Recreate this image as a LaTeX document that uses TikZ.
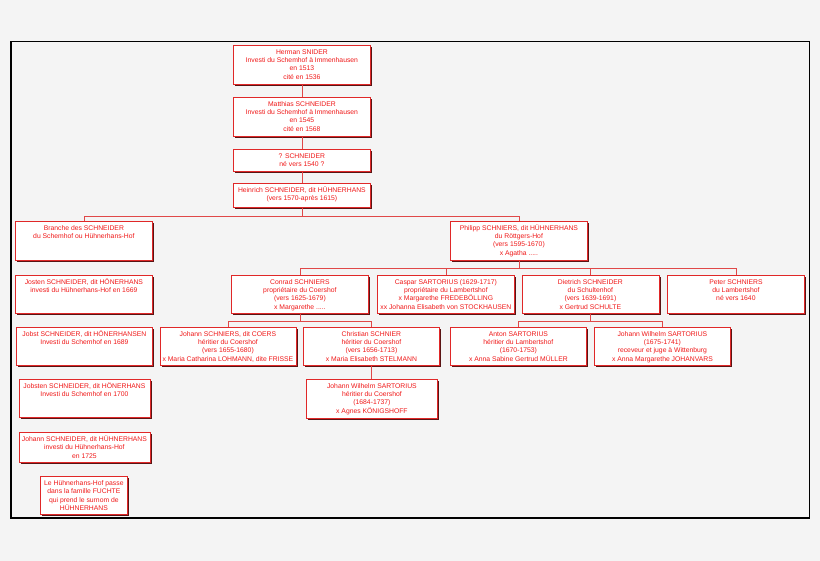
\documentclass[tikz,border=0pt]{standalone}
\usepackage{fontspec}
\setmainfont{Liberation Sans}
\usetikzlibrary{shadows,calc}
\definecolor{bg}{HTML}{F4F4F4}
\definecolor{boxred}{HTML}{E02828}
\definecolor{txtred}{HTML}{F01818}
\definecolor{shd}{HTML}{5A1414}
\definecolor{conn}{HTML}{E04848}
\newcommand\famtxt{\fontsize{6.8}{8.3}\selectfont}
\newcommand\bx[6]{\node[famb] (#1) at (#2,#3) {\parbox[t][#5pt][t]{#4pt}{\centering\rule{0pt}{9pt}#6}};}
\tikzset{
  famb/.style={draw=boxred, fill=white, line width=0.8pt, inner sep=0pt, anchor=north west,
    font=\famtxt, text=txtred,
    drop shadow={shadow xshift=1.6pt, shadow yshift=-1.6pt, fill=shd, opacity=1}},
  link/.style={draw=conn, line width=0.8pt}
}
\begin{document}
\begin{tikzpicture}[x=1pt,y=-1pt]
\fill[bg] (0,0) rectangle (820,561);
\useasboundingbox (0,0) rectangle (820,561);
\draw[line width=1.8pt] (11,41.5) rectangle (809.5,518);

\bx{herman}{233}{45}{137}{39}{Herman SNIDER\\Investi du Schemhof à Immenhausen\\en 1513\\cité en 1536}
\bx{matthias}{233}{97}{137}{39}{Matthias SCHNEIDER\\Investi du Schemhof à Immenhausen\\en 1545\\cité en 1568}
\bx{unknown}{233}{149}{137}{22}{? SCHNEIDER\\né vers 1540 ?}
\bx{heinrich}{233}{183}{137}{24}{Heinrich SCHNEIDER, dit HÜHNERHANS\\(vers 1570-après 1615)}

\bx{branche}{15}{221}{137}{39}{Branche des SCHNEIDER\\du Schemhof ou Hühnerhans-Hof}
\bx{philipp}{450}{221}{137}{39}{Philipp SCHNIERS, dit HÜHNERHANS\\du Röttgers-Hof\\(vers 1595-1670)\\x Agatha .....}

\bx{josten}{15}{275}{137}{38}{Josten SCHNEIDER, dit HÖNERHANS\\investi du Hühnerhans-Hof en 1669}
\bx{jobst}{16}{327}{136}{38}{Jobst SCHNEIDER, dit HÖNERHANSEN\\Investi du Schemhof en 1689}
\bx{jobsten}{18.5}{379}{131}{38}{Jobsten SCHNEIDER, dit HÖNERHANS\\Investi du Schemhof en 1700}
\bx{johannS}{18.5}{432}{131}{30}{Johann SCHNEIDER, dit HÜHNERHANS\\investi du Hühnerhans-Hof\\en 1725}
\bx{fuchte}{40}{476}{87}{38}{Le Hühnerhans-Hof passe\\dans la famille FUCHTE\\qui prend le surnom de\\HÜHNERHANS}

\bx{conrad}{231}{275}{137}{38}{Conrad SCHNIERS\\propriétaire du Coershof\\(vers 1625-1679)\\x Margarethe .....}
\bx{caspar}{377}{275}{137}{38}{Caspar SARTORIUS (1629-1717)\\propriétaire du Lambertshof\\x Margarethe FREDEBÖLLING\\xx Johanna Elisabeth von STOCKHAUSEN}
\bx{dietrich}{521.5}{275}{137}{38}{Dietrich SCHNEIDER\\du Schultenhof\\(vers 1639-1691)\\x Gertrud SCHULTE}
\bx{peter}{667}{275}{137}{38}{Peter SCHNIERS\\du Lambertshof\\né vers 1640}

\bx{johannC}{159.5}{327}{136}{38}{Johann SCHNIERS, dit COERS\\héritier du Coershof\\(vers 1655-1680)\\x Maria Catharina LOHMANN, dite FRISSE}
\bx{christian}{303}{327}{136}{38}{Christian SCHNIER\\héritier du Coershof\\(vers 1656-1713)\\x Maria Elisabeth STELMANN}
\bx{jws}{306}{379}{131}{39}{Johann Wilhelm SARTORIUS\\héritier du Coershof\\(1684-1737)\\x Agnes KÖNIGSHOFF}
\bx{anton}{450}{327}{136}{38}{Anton SARTORIUS\\héritier du Lambertshof\\(1670-1753)\\x Anna Sabine Gertrud MÜLLER}
\bx{jwsb}{594}{327}{136}{38}{Johann Wilhelm SARTORIUS\\(1675-1741)\\receveur et juge à Wittenburg\\x Anna Margarethe JOHANVARS}

\draw[link] (herman.south) -- (matthias.north);
\draw[link] (matthias.south) -- (unknown.north);
\draw[link] (unknown.south) -- (heinrich.north);

\coordinate (j1) at ($(heinrich.south)+(0,8.5)$);
\draw[link] (heinrich.south) -- (j1);
\draw[link] (j1) -| (branche.north);
\draw[link] (j1) -| (philipp.north);

\coordinate (j2) at ($(philipp.south)+(0,8)$);
\draw[link] (philipp.south) -- (j2);
\draw[link] (j2) -| (conrad.north);
\draw[link] (j2) -| (caspar.north);
\draw[link] (j2) -| (dietrich.north);
\draw[link] (j2) -| (peter.north);

\coordinate (j3) at ($(conrad.south)+(0,7.5)$);
\draw[link] (conrad.south) -- (j3);
\draw[link] (j3) -| (johannC.north);
\draw[link] (j3) -| (christian.north);
\draw[link] (christian.south) -- (christian.south |- jws.north);

\coordinate (j4) at ($(dietrich.south)+(0,7.5)$);
\draw[link] (dietrich.south) -- (j4);
\draw[link] (j4) -| (anton.north);
\draw[link] (j4) -| (jwsb.north);
\end{tikzpicture}
\end{document}
